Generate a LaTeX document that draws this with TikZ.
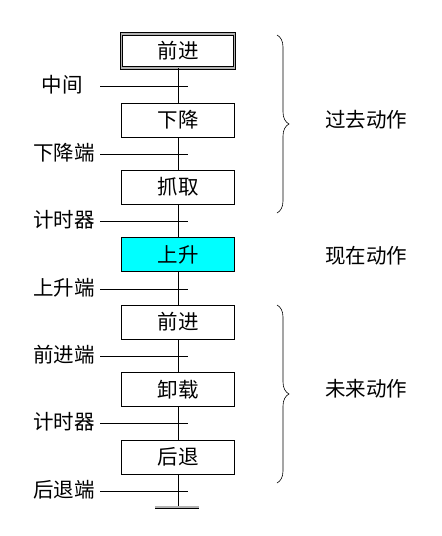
\documentclass[tikz,border=0pt]{standalone}
\usepackage{fontspec}
\setmainfont{Noto Sans CJK SC}
\usetikzlibrary{decorations.pathreplacing}
\definecolor{nowcyan}{RGB}{0,255,255}
\tikzset{
  stepbox/.style={draw, line width=0.8pt, minimum width=113pt, minimum height=34pt, inner sep=0pt},
  initbox/.style={stepbox, double=gray!60, double distance=1.6pt},
  bar/.style={line width=0.8pt},
  lbl/.style={anchor=east, inner sep=0pt},
  grp/.style={decorate, decoration={brace, amplitude=12pt}, line width=0.6pt}
}
\begin{document}
\begin{tikzpicture}[x=1pt, y=-1pt, font=\fontsize{20.5}{22}\selectfont]
\useasboundingbox (0,0) rectangle (442,536);

\node[initbox] (s1) at (178,51) {前进};
\node[stepbox] (s2) at (178,120) {下降};
\node[stepbox] (s3) at (178,187) {抓取};
\node[stepbox, fill=nowcyan] (s4) at (178,254.5) {上升};
\node[stepbox] (s5) at (178,322) {前进};
\node[stepbox] (s6) at (178,389.5) {卸载};
\node[stepbox] (s7) at (178,457) {后退};
\coordinate (end) at (178,507);

\draw[bar] (s1) -- (s2);
\draw[bar] (s2) -- (s3);
\draw[bar] (s3) -- (s4);
\draw[bar] (s4) -- (s5);
\draw[bar] (s5) -- (s6);
\draw[bar] (s6) -- (s7);
\draw[bar] (s7) -- (end);

\coordinate (t1l) at (100,86);  \coordinate (t1r) at (188,86);
\coordinate (t2l) at (100,154); \coordinate (t2r) at (188,154);
\coordinate (t3l) at (100,221); \coordinate (t3r) at (188,221);
\coordinate (t4l) at (100,289); \coordinate (t4r) at (188,289);
\coordinate (t5l) at (100,356); \coordinate (t5r) at (188,356);
\coordinate (t6l) at (100,423); \coordinate (t6r) at (188,423);
\coordinate (t7l) at (100,491); \coordinate (t7r) at (188,491);
\draw[bar] (t1l) -- (t1r);
\draw[bar] (t2l) -- (t2r);
\draw[bar] (t3l) -- (t3r);
\draw[bar] (t4l) -- (t4r);
\draw[bar] (t5l) -- (t5r);
\draw[bar] (t6l) -- (t6r);
\draw[bar] (t7l) -- (t7r);

\node[lbl] (c1) at (83,85) {中间};
\node[lbl] (c2) at (95,153) {下降端};
\node[lbl] (c3) at (95,220) {计时器};
\node[lbl] (c4) at (95,288) {上升端};
\node[lbl] (c5) at (95,355) {前进端};
\node[lbl] (c6) at (95,422) {计时器};
\node[lbl] (c7) at (95,490) {后退端};

\coordinate (el) at (155,507); \coordinate (er) at (199,507);
\draw[line width=0.8pt, double=gray!60, double distance=1.4pt] (el) -- (er);

\coordinate (b1t) at (277,35);  \coordinate (b1b) at (277,213);
\coordinate (b2t) at (277,305); \coordinate (b2b) at (277,483);
\draw[grp] (b1t) -- (b1b);
\draw[grp] (b2t) -- (b2b);

\node (g1) at (366,120) {过去动作};
\node (g2) at (366,256) {现在动作};
\node (g3) at (366,389) {未来动作};

\end{tikzpicture}
\end{document}
